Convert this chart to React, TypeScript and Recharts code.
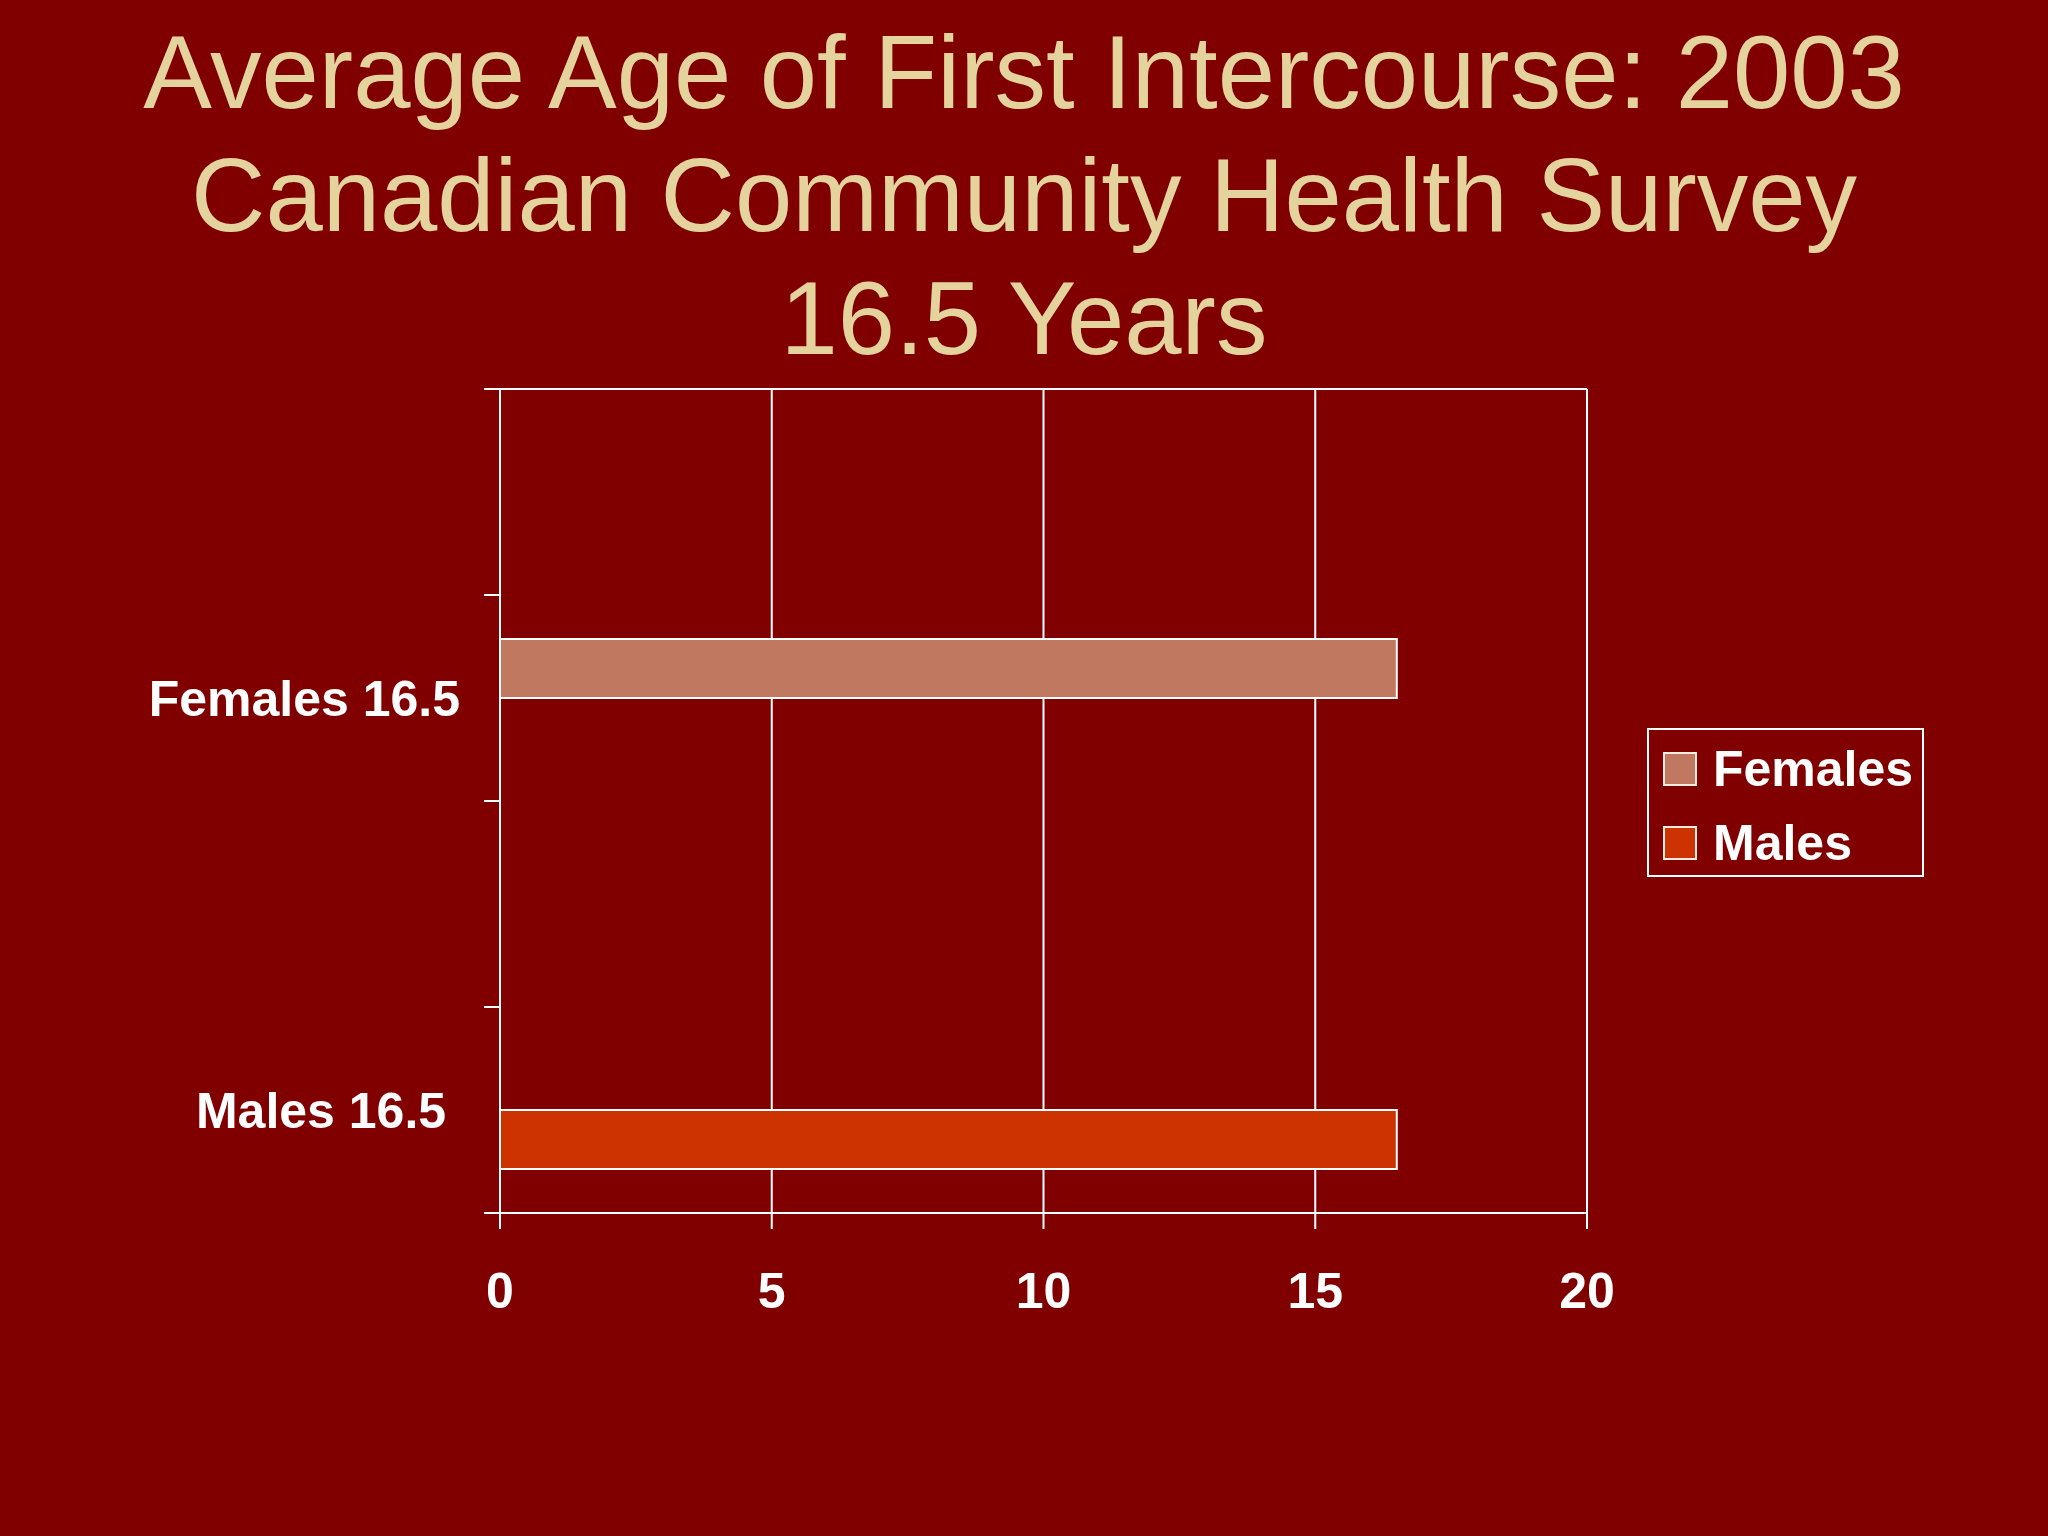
import React from 'react';
import { BarChart, Bar, XAxis, YAxis, CartesianGrid, Legend } from 'recharts';

const titleLines = [
  'Average Age of First Intercourse: 2003',
  'Canadian Community Health Survey',
  '16.5 Years',
];

// top to bottom; the blank rows are the empty bands of the original chart
const categories = ['', 'Females 16.5', ' ', 'Males 16.5\u00A0'];
const femalesValues = [null, 16.5, null, null];
const malesValues = [null, null, null, 16.5];
const xTicks = [0, 5, 10, 15, 20];

const seriesColors = { Females: '#C07860', Males: '#CC3300' };

const FONT = '"Liberation Sans", Arial, sans-serif';
const BG = '#800000';
const LINE = '#FFFFFF';

const data = categories.map((name, i) => ({
  name,
  Females: femalesValues[i],
  Males: malesValues[i],
}));

const CategoryTick = (props: any) => {
  const { x, y, payload, index, visibleTicksCount } = props;
  const half = payload && payload.offset ? payload.offset : 103;
  const isLast =
    visibleTicksCount != null ? index === visibleTicksCount - 1 : index === categories.length - 1;
  return (
    <g>
      <line x1={x - 16} x2={x} y1={y - half} y2={y - half} stroke={LINE} strokeWidth={2} />
      {isLast && (
        <line x1={x - 16} x2={x} y1={y + half} y2={y + half} stroke={LINE} strokeWidth={2} />
      )}
      <text
        x={x - 40}
        y={y}
        dy={18}
        textAnchor="end"
        fill="#FFFFFF"
        fontSize={50}
        fontWeight="bold"
        fontFamily={FONT}
      >
        {payload.value}
      </text>
    </g>
  );
};

const LegendBox = (props: any) => {
  const items = props.payload || [];
  return (
    <div
      style={{
        boxSizing: 'border-box',
        width: 277,
        height: 149,
        border: `2px solid ${LINE}`,
        paddingTop: 2,
        paddingLeft: 14,
        fontFamily: FONT,
      }}
    >
      {items.map((entry: any) => (
        <div
          key={entry.value}
          style={{ display: 'flex', alignItems: 'center', height: 74 }}
        >
          <div
            style={{
              boxSizing: 'border-box',
              width: 34,
              height: 34,
              background: entry.color,
              border: '2px solid #FFEDE4',
              marginRight: 16,
            }}
          />
          <span
            style={{
              color: '#FFFFFF',
              fontSize: 50,
              fontWeight: 'bold',
              lineHeight: '74px',
            }}
          >
            {entry.value}
          </span>
        </div>
      ))}
    </div>
  );
};

export default function App() {
  return (
    <div
      style={{
        position: 'absolute',
        left: 0,
        top: 0,
        width: 2048,
        height: 1536,
        background: BG,
        overflow: 'hidden',
      }}
    >
      <BarChart
        width={2048}
        height={1536}
        data={data}
        layout="vertical"
        margin={{ top: 388, right: 461, bottom: 223, left: 20 }}
        barCategoryGap="21.4%"
        barGap={0}
      >
        <CartesianGrid horizontal={false} stroke={LINE} strokeWidth={2} />
        <XAxis
          type="number"
          domain={[0, 20]}
          ticks={xTicks}
          height={100}
          tickSize={16}
          tickMargin={43}
          axisLine={{ stroke: LINE, strokeWidth: 2 }}
          tickLine={{ stroke: LINE, strokeWidth: 2 }}
          tick={{ fill: '#FFFFFF', fontSize: 50, fontWeight: 'bold', fontFamily: FONT }}
        />
        {/* top border of the plot box */}
        <XAxis
          xAxisId="top"
          orientation="top"
          type="number"
          domain={[0, 20]}
          ticks={xTicks}
          height={1}
          tick={false}
          tickLine={false}
          axisLine={{ stroke: LINE, strokeWidth: 2 }}
        />
        <YAxis
          type="category"
          dataKey="name"
          width={480}
          interval={0}
          tickSize={0}
          tickMargin={0}
          tickLine={false}
          axisLine={{ stroke: LINE, strokeWidth: 2 }}
          tick={<CategoryTick />}
        />
        <Legend
          layout="vertical"
          align="center"
          verticalAlign="middle"
          wrapperStyle={{ left: 1647, top: 728, width: 277, height: 149 }}
          content={<LegendBox />}
        />
        <Bar
          dataKey="Females"
          name="Females"
          fill={seriesColors.Females}
          stroke={LINE}
          strokeWidth={2}
          isAnimationActive={false}
        />
        <Bar
          dataKey="Males"
          name="Males"
          fill={seriesColors.Males}
          stroke={LINE}
          strokeWidth={2}
          isAnimationActive={false}
        />
      </BarChart>
      <div
        style={{
          position: 'absolute',
          top: 11,
          left: 0,
          width: 2048,
          textAlign: 'center',
          fontFamily: FONT,
          fontSize: 103,
          lineHeight: '123px',
          color: '#E4D39C',
          pointerEvents: 'none',
        }}
      >
        {titleLines.map((line) => (
          <div key={line}>{line}</div>
        ))}
      </div>
    </div>
  );
}
